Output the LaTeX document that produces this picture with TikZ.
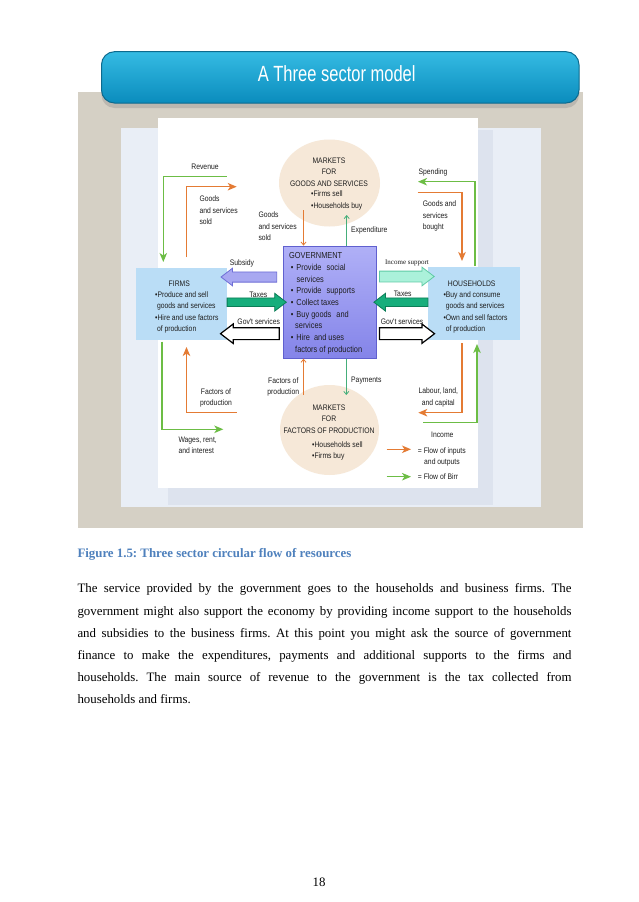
\documentclass[tikz,border=0pt]{standalone}
\usepackage{fontspec}
\setmainfont{Liberation Serif}
\newfontfamily\dfont[FakeStretch=0.85]{Liberation Sans}
\newfontfamily\tfont[FakeStretch=0.75]{Liberation Sans}
\usetikzlibrary{arrows.meta,shapes.geometric,shapes.arrows,shadows}
\frenchspacing
\definecolor{beigeC}{HTML}{D5D0C5}
\definecolor{panelC}{HTML}{E9EEF6}
\definecolor{stripC}{HTML}{DDE3EE}
\definecolor{barT}{HTML}{35BBE3}
\definecolor{barB}{HTML}{0A8CBD}
\definecolor{barD}{HTML}{0D6A8E}
\definecolor{circC}{HTML}{F6E8D8}
\definecolor{boxC}{HTML}{BADDF6}
\definecolor{govT}{HTML}{B0B0F7}
\definecolor{govB}{HTML}{8484E9}
\definecolor{govD}{HTML}{6060CF}
\definecolor{oraC}{HTML}{E47B34}
\definecolor{grnC}{HTML}{6CBD45}
\definecolor{tealC}{HTML}{45AE7A}
\definecolor{subF}{HTML}{A8A8F1}
\definecolor{subD}{HTML}{6E6ED6}
\definecolor{incF}{HTML}{ABF1DA}
\definecolor{incD}{HTML}{5FCBA5}
\definecolor{taxF}{HTML}{17AE7C}
\definecolor{taxD}{HTML}{0C7D57}
\definecolor{capC}{HTML}{4F81BD}
\definecolor{txtC}{HTML}{1E1E1E}
\tikzset{
  lbl/.style={font=\dfont\fontsize{8}{11.4}\selectfont, inner sep=0pt, align=left, text=txtC},
  lblc/.style={lbl, align=center},
  gtxt/.style={font=\dfont\fontsize{8.7}{11.67}\selectfont, inner sep=0pt, align=left, text=txtC},
  flowO/.style={draw=oraC, line width=1.1pt, -{Stealth[length=9pt,width=7.5pt,inset=2.5pt]}},
  flowG/.style={draw=grnC, line width=1.1pt, -{Stealth[length=9pt,width=7.5pt,inset=2.5pt]}},
  thinO/.style={draw=oraC, line width=0.8pt, -{Straight Barb[length=3pt,width=5pt]}},
  thinG/.style={draw=tealC, line width=0.8pt, -{Straight Barb[length=3pt,width=5pt]}},
  barrow/.style={single arrow, inner xsep=0pt, inner ysep=#1, single arrow tip angle=75, anchor=center},
  sector/.style={rectangle, fill=boxC, inner sep=0pt},
  market/.style={ellipse, fill=circC, inner sep=0pt}
}
\begin{document}
\begin{tikzpicture}[x=1pt,y=-1pt]
\useasboundingbox (0,0) rectangle (638,902);
\fill[white] (0,0) rectangle (638,902);
% backgrounds
\fill[beigeC] (77.5,92) rectangle (583,528);
\fill[panelC] (120.5,128.3) rectangle (541,507);
\fill[stripC] (168,130) rectangle (493,505);
\fill[white] (158,118) rectangle (478,488.3);
% title bar
\node[rounded corners=13pt, minimum width=477.5pt, minimum height=51.3pt, top color=barT, bottom color=barB, draw=barD, line width=1pt, drop shadow={opacity=0.3, shadow xshift=0pt, shadow yshift=-5pt}] (bar) at (340.25,77.35) {};
\node[font=\tfont\fontsize{22}{26}\selectfont, text=white, anchor=base, inner sep=0pt] (title) at (336.7,81.7) {A Three sector model};

% markets
\node[market, minimum width=101pt, minimum height=87pt] (mgs) at (329.5,183) {};
\node[market, minimum width=99pt, minimum height=90pt] (mfp) at (329.5,430) {};
\node[lblc] (mgsT) at (329,172) {MARKETS\\FOR\\GOODS AND SERVICES};
\node[lbl, anchor=west] (mgsB) at (311,200.5) {•Firms sell\\•Households buy};
\node[lblc] (mfpT) at (329,419.2) {MARKETS\\FOR\\FACTORS OF PRODUCTION};
\node[lbl, anchor=west] (mfpB) at (312,450.8) {•Households sell\\•Firms buy};

% sectors
\node[sector, minimum width=90.7pt, minimum height=71.7pt] (firms) at (181.35,304.15) {};
\node[sector, minimum width=92pt, minimum height=73pt] (hh) at (473.5,303.5) {};
\node[lblc] (firmsT) at (179.3,283.3) {FIRMS};
\node[lbl, anchor=west] (firmsB) at (155,312.5) {•Produce and sell\\\hspace*{1.8pt}goods and services\\•Hire and use factors\\\hspace*{1.8pt}of production};
\node[lblc] (hhT) at (471.7,283.3) {HOUSEHOLDS};
\node[lbl, anchor=west] (hhB) at (443.3,312.5) {•Buy and consume\\\hspace*{2.4pt}goods and services\\•Own and sell factors\\\hspace*{2.4pt}of production};

% government
\node[rectangle, minimum width=92.7pt, minimum height=112.3pt, top color=govT, bottom color=govB, draw=govD, line width=0.8pt, inner sep=0pt] (gov) at (329.65,302.15) {};
\node[gtxt, anchor=west] (govT) at (289,303.3) {GOVERNMENT\\
\hspace*{1.7pt}•\hspace{3pt}Provide\hspace{3pt} social\\
\hspace*{7.5pt}services\\
\hspace*{1.7pt}•\hspace{3pt}Provide\hspace{3pt} supports\\
\hspace*{1.7pt}•\hspace{3pt}Collect taxes\\
\hspace*{1.7pt}•\hspace{3pt}Buy goods\hspace{3pt} and\\
\hspace*{6pt}services\\
\hspace*{1.7pt}•\hspace{3pt}Hire\hspace{2pt} and uses\\
\hspace*{6pt}factors of production};

% block arrows
\node[barrow=4.7pt, single arrow head extend=3.65pt, minimum height=55.7pt, fill=subF, draw=subD, line width=0.8pt, shape border rotate=180] (subsidy) at (252.2,277) {};
\node[barrow=3.9pt, single arrow head extend=4.6pt, minimum height=59.2pt, fill=taxF, draw=taxD, line width=0.8pt] (taxL) at (253.9,302.2) {};
\node[barrow=5.3pt, single arrow head extend=3.8pt, minimum height=58.7pt, fill=white, draw=black, line width=1.2pt, shape border rotate=180] (gsL) at (253.7,333.7) {};
\node[barrow=5pt, single arrow head extend=4pt, minimum height=54.7pt, fill=incF, draw=incD, line width=0.8pt] (income) at (403.3,276.5) {};
\node[barrow=3.9pt, single arrow head extend=4.6pt, minimum height=54pt, fill=taxF, draw=taxD, line width=0.8pt, shape border rotate=180] (taxR) at (403.7,302.2) {};
\node[barrow=5.3pt, single arrow head extend=3.8pt, minimum height=55pt, fill=white, draw=black, line width=1.2pt] (gsR) at (403.2,333.7) {};
\node[lblc] (subsidyL) at (242,263.3) {Subsidy};
\node[font=\fontsize{7}{8}\selectfont, inner sep=0pt, text=txtC] (incomeL) at (407,263.3) {Income support};
\node[lblc] (taxLl) at (258.3,294.3) {Taxes};
\node[lblc] (taxRl) at (402.7,293.8) {Taxes};
\node[lblc] (gsLl) at (258.7,321.7) {Gov't services};
\node[lblc] (gsRl) at (402,321.2) {Gov't services};

% top-left loop
\coordinate (rvA) at (226.7,176.7);
\coordinate (rvB) at (163.3,262);
\draw[flowG] (rvA) -| (rvB);
\coordinate (gsA) at (186.5,257);
\coordinate (gsB) at (236.7,186.7);
\draw[flowO] (gsA) |- (gsB);
\node[lblc] (revL) at (205,166.7) {Revenue};
\node[lbl, anchor=west] (gssL) at (199.3,210.5) {Goods\\and services\\sold};

% top-right loop
\coordinate (spA) at (475,266);
\coordinate (spB) at (418,181.7);
\draw[flowG] (spA) |- (spB);
\coordinate (gbA) at (417.7,192.3);
\coordinate (gbB) at (462,261);
\draw[flowO] (gbA) -| (gbB);
\node[lblc] (spL) at (433,172.3) {Spending};
\node[lbl, anchor=west] (gbL) at (422.7,216) {Goods and\\services\\bought};

% bottom-left loop
\coordinate (wrA) at (162,341.7);
\coordinate (wrB) at (223.3,429.3);
\draw[flowG] (wrA) |- (wrB);
\coordinate (fpA) at (236.7,412.3);
\coordinate (fpB) at (186.5,347);
\draw[flowO] (fpA) -| (fpB);
\node[lblc] (fpL) at (216,397.8) {Factors of\\production};
\node[lbl, anchor=west] (wrL) at (178.3,445.5) {Wages, rent,\\and interest};

% bottom-right loop
\coordinate (llA) at (462,343);
\coordinate (llB) at (418.3,412.7);
\draw[flowO] (llA) |- (llB);
\coordinate (inA) at (423.3,422.7);
\coordinate (inB) at (477,344);
\draw[flowG] (inA) -| (inB);
\node[lblc] (llL) at (438.3,397.5) {Labour, land,\\and capital};
\node[lblc] (inL) at (442.3,435) {Income};

% government <-> markets
\coordinate (gsoldA) at (303.5,210);
\draw[thinO] (gsoldA) -- (gsoldA |- gov.north);
\node[lbl, anchor=west] (gsoldL) at (258.3,226.4) {Goods\\and services\\sold};
\coordinate (expB) at (346.7,215);
\draw[thinG] (expB |- gov.north) -- (expB);
\node[lbl, anchor=west] (expL) at (351,230.7) {Expenditure};
\coordinate (fopA) at (303.5,395);
\draw[thinO] (fopA) -- (fopA |- gov.south);
\node[lblc] (fopL) at (283.3,386.7) {Factors of\\production};
\coordinate (payB) at (346.3,395);
\draw[thinG] (payB |- gov.south) -- (payB);
\node[lbl, anchor=west] (payL) at (351,381) {Payments};

% legend
\coordinate (lgOA) at (386.7,449.3);
\coordinate (lgOB) at (411,449.3);
\draw[flowO] (lgOA) -- (lgOB);
\coordinate (lgGA) at (386.7,476.7);
\coordinate (lgGB) at (411,476.7);
\draw[flowG] (lgGA) -- (lgGB);
\node[lbl, anchor=west] (lgOL) at (417.7,457.2) {= Flow of inputs\\\hspace*{6.3pt}and outputs};
\node[lbl, anchor=west] (lgGL) at (417.7,476.7) {= Flow of Birr};

% caption and text
\node[anchor=base west, inner sep=0pt, font=\bfseries\fontsize{12.86}{15}\selectfont, text=capC] (cap) at (77.3,557) {Figure 1.5: Three sector circular flow of resources};
\node[anchor=north west, inner sep=0pt, text width=494pt, align=justify, font=\fontsize{12.86}{22.15}\selectfont] (para) at (77.3,583.6) {The service provided by the government goes to the households and business firms. The\linebreak
government might also support the economy by providing income support to the households\linebreak
and subsidies to the business firms. At this point you might ask the source of government\linebreak
finance to make the expenditures, payments and additional supports to the firms and\linebreak
households. The main source of revenue to the government is the tax collected from\linebreak
households and firms.};
\node[anchor=base, inner sep=0pt, font=\fontsize{12.86}{15}\selectfont] (pg) at (319,886.5) {18};
\end{tikzpicture}
\end{document}
